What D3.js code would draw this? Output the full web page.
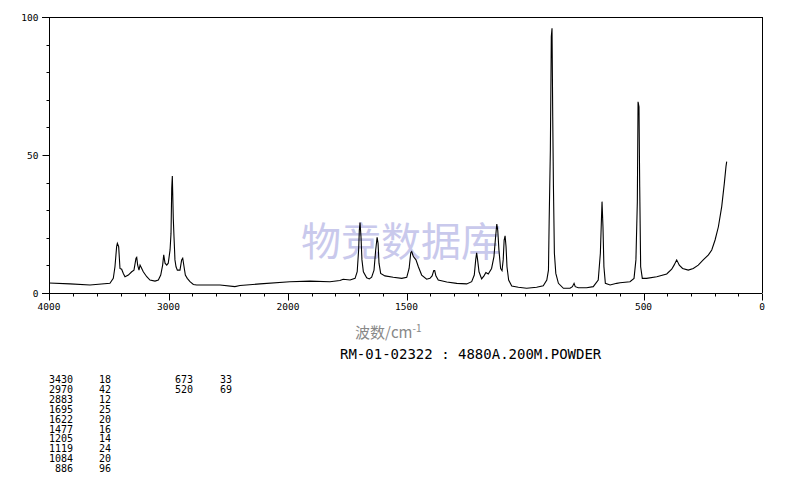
<!DOCTYPE html>
<html><head><meta charset="utf-8">
<script src="https://cdn.jsdelivr.net/npm/d3@7/dist/d3.min.js"></script>
<style>body{margin:0;background:#fff}svg{display:block}</style>
</head><body>
<svg id="c" width="794" height="482"></svg>
<script>
const wavenumbers=[4000,3824,3657,3490,3462,3448,3434,3428,3417,3406,3392,3378,3364,3336,3308,3289,3272,3266,3258,3247,3238,3224,3211,3182,3155,3113,3085,3065,3049,3040,3029,3015,3002,2987,2979,2973,2968,2960,2954,2946,2937,2926,2904,2890,2881,2870,2859,2843,2820,2792,2764,2569,2444,2402,2234,1992,1907,1823,1781,1767,1738,1717,1708,1702,1699,1696,1692,1688,1682,1668,1657,1647,1637,1630,1624,1620,1616,1609,1591,1556,1520,1499,1489,1482,1478,1471,1460,1450,1436,1415,1401,1392,1385,1381,1376,1366,1330,1288,1246,1225,1214,1208,1204,1200,1194,1183,1173,1165,1155,1141,1131,1124,1119,1115,1110,1103,1097,1092,1088,1084,1080,1076,1069,1056,1028,993,951,923,908,901,898,893,889,886,883,880,876,870,859,838,810,800,793,788,775,740,712,691,682,678,675,671,667,661,641,613,599,557,540,532,526,523,519,516,512,505,487,444,402,381,371,360,349,335,311,290,269,248,226,212,198,184,170,159,152,149];
const intensities=[3.6,3.3,2.9,3.5,5.3,9.5,16.8,18.0,16.8,8.9,8.6,7.1,5.9,6.5,7.7,8.3,12.6,12.9,10.1,8.3,10.1,8.9,7.7,5.9,4.7,4.3,4.7,6.5,10.1,13.8,10.8,10.1,10.8,15.6,21.6,37.9,42.4,27.1,20.4,12.0,9.5,8.3,8.3,12.0,12.6,9.5,6.5,5.3,4.1,3.1,2.9,2.9,2.3,2.7,3.3,4.1,4.3,4.1,4.5,5.0,4.7,5.3,7.7,15.6,22.8,25.5,20.4,12.0,7.7,5.5,5.1,5.7,8.3,15.6,20.2,18.0,10.8,7.1,6.2,5.7,5.3,5.7,8.9,14.6,15.0,13.2,12.0,9.5,6.5,5.0,5.3,6.2,8.1,8.1,6.2,4.7,4.0,3.5,3.3,4.1,6.5,12.0,14.6,12.0,7.7,5.1,6.2,7.4,6.9,8.9,13.2,20.4,25.0,22.8,15.6,8.9,8.1,12.0,19.2,20.7,16.8,9.5,4.7,2.5,2.1,1.7,2.1,2.6,4.7,8.3,26.4,51.8,92.9,95.9,63.9,38.5,14.4,7.1,3.5,1.7,1.7,2.3,3.5,2.3,1.9,1.9,2.3,4.7,14.4,25.3,33.1,24.0,9.5,3.5,2.9,3.5,3.7,4.1,5.3,12.0,33.1,69.3,67.5,38.5,9.5,5.3,5.3,5.9,6.9,8.6,10.1,12.0,10.1,8.9,8.3,8.9,10.1,12.0,13.8,15.6,19.2,24.0,31.3,39.7,45.8,47.6];
const xTickLabels=[4000,3000,2000,1500,500,0];
const yTickLabels=[0,50,100];
const peakWn=["3430","2970","2883","1695","1622","1477","1205","1119","1084","886","673","520"];
const peakInt=["18","42","12","25","20","16","14","24","20","96","33","69"];
const titleText="RM-01-02322 : 4880A.200M.POWDER";
const xLabel="波数/cm";
const watermark="物竞数据库";

const svg=d3.select("#c");
const x=d3.scaleLinear().domain([4000,2000,0]).range([49,288,762]);
const y=d3.scaleLinear().domain([0,100]).range([293,17]);
const mono="'DejaVu Sans Mono',monospace";

// watermark
svg.append("text").attr("x",401).attr("y",256).attr("text-anchor","middle")
  .attr("font-family","'Noto Sans CJK SC',sans-serif").attr("font-size",40)
  .attr("fill","#c9c9ec").text(watermark);

// frame
svg.append("line").attr("x1",42).attr("x2",762).attr("y1",y(100)+0.5).attr("y2",y(100)+0.5).attr("stroke","#000");
svg.append("line").attr("x1",762.5).attr("x2",762.5).attr("y1",y(100)).attr("y2",y(0)).attr("stroke","#000");

// x axis
const minorTicks=d3.range(4000,2000,-200).concat(d3.range(2000,-1,-100));
const xAxis=svg.append("g").attr("transform","translate(0,293.5)");
xAxis.append("line").attr("x1",42).attr("x2",762).attr("stroke","#000");
xAxis.selectAll("line.mn").data(minorTicks).join("line").attr("class","mn")
  .attr("x1",d=>Math.round(x(d))+0.5).attr("x2",d=>Math.round(x(d))+0.5)
  .attr("y1",0).attr("y2",d=>xTickLabels.includes(d)?7:3).attr("stroke","#000");
xAxis.selectAll("text").data(xTickLabels).join("text")
  .attr("x",d=>x(d)).attr("y",16).attr("text-anchor","middle")
  .attr("font-family",mono).attr("font-size",9.5).attr("fill","#000").text(d=>d);

// y axis
const yAxis=svg.append("g").attr("transform","translate(49.5,0)");
yAxis.append("line").attr("y1",y(100)).attr("y2",y(0)).attr("stroke","#000");
yAxis.selectAll("line.t").data(d3.range(0,101,10)).join("line").attr("class","t")
  .attr("y1",d=>Math.round(y(d))+0.5).attr("y2",d=>Math.round(y(d))+0.5)
  .attr("x1",d=>yTickLabels.includes(d)?-7:-3).attr("x2",0).attr("stroke","#000");
yAxis.selectAll("text").data(yTickLabels).join("text")
  .attr("x",-11).attr("y",d=>y(d)+3.5).attr("text-anchor","end")
  .attr("font-family",mono).attr("font-size",9.5).attr("fill","#000").text(d=>d);

// spectrum
const pts=wavenumbers.map((w,i)=>[w,intensities[i]]);
svg.append("path").datum(pts)
  .attr("d",d3.line().x(d=>x(d[0])).y(d=>y(d[1])))
  .attr("fill","none").attr("stroke","#000").attr("stroke-width",1.1);

// axis label
const xl=svg.append("text").attr("x",355).attr("y",338)
  .attr("font-family","'Noto Sans CJK SC',serif").attr("font-size",15).attr("fill","#888");
xl.append("tspan").text(xLabel);
xl.append("tspan").attr("dy",-6).attr("font-size",10).text("-1");

// title
svg.append("text").attr("x",340).attr("y",359).attr("font-family",mono)
  .attr("font-size",14).attr("fill","#000").text(titleText);

// peak table
const rows=peakWn.map((w,i)=>({w,v:peakInt[i],col:i<10?0:1,row:i<10?i:i-10}));
const tbl=svg.append("g").attr("font-family",mono).attr("font-size",10).attr("fill","#000");
const cx=[[73,111],[193,232]];
tbl.selectAll("text.w").data(rows).join("text").attr("class","w")
  .attr("x",d=>cx[d.col][0]).attr("y",d=>383+d.row*9.9).attr("text-anchor","end").text(d=>d.w);
tbl.selectAll("text.v").data(rows).join("text").attr("class","v")
  .attr("x",d=>cx[d.col][1]).attr("y",d=>383+d.row*9.9).attr("text-anchor","end").text(d=>d.v);
</script>
</body></html>
